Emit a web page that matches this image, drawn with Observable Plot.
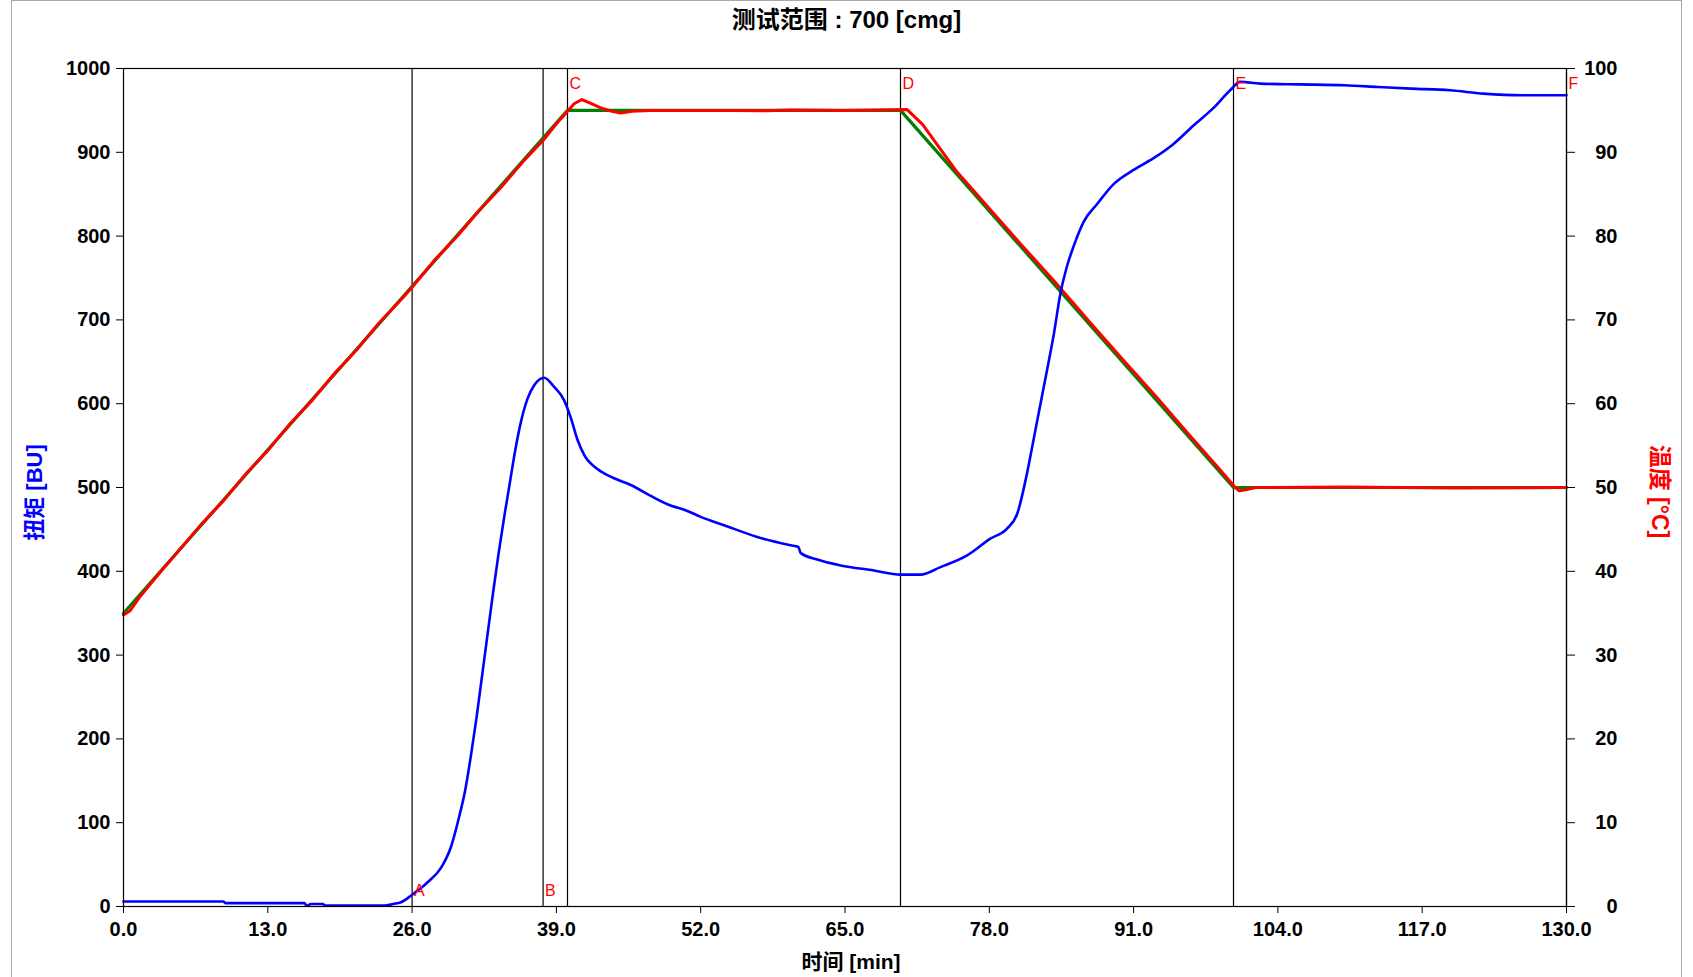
<!DOCTYPE html>
<html>
<head>
<meta charset="utf-8">
<script src="https://cdn.jsdelivr.net/npm/d3@7"></script>
<script src="https://cdn.jsdelivr.net/npm/@observablehq/plot@0.6"></script>
<style>
  html, body { margin: 0; padding: 0; background: #fff; }
  #wrap { position: relative; width: 1693px; height: 977px; overflow: hidden; background: #fff; }
  #border { position: absolute; left: 11px; top: 0; width: 1671px; height: 1000px; border: 1px solid #a9a9a9; box-sizing: border-box; }
  #title { position: absolute; left: 0; top: 0; width: 1693px; height: 52px; line-height: 52px; text-align: center;
           font: bold 24px "Liberation Sans", "Noto Sans CJK SC", sans-serif; color: #000; }
  #chart { position: absolute; left: 0; top: 50px; }
</style>
</head>
<body>
<div id="wrap">
  <div id="border"></div>
  <div id="title"></div>
  <div id="chart"></div>
</div>
<script>
// ---- data ----
const titleText = "测试范围 : 700 [cmg]";
const xLabel = "时间 [min]";
const yLabelLeft = "扭矩 [BU]";
const yLabelRight = "温度 [°C]";

const xTicks = [0, 13, 26, 39, 52, 65, 78, 91, 104, 117, 130];
const torqueTicks = [0, 100, 200, 300, 400, 500, 600, 700, 800, 900, 1000];
const tempTicks = [0, 10, 20, 30, 40, 50, 60, 70, 80, 90, 100];

const markerNames = ["A", "B", "C", "D", "E", "F"];
const markerTime = [26, 37.8, 40, 70, 100, 130];

// torque (BU) vs time (min)
const torqueTime = [0, 9, 9.2, 16.3, 16.5, 16.9, 18, 18.1, 23.5, 24.3, 25, 26, 27.4, 28.6, 29.5, 30.2, 30.8, 31.3, 31.8, 32.3, 32.8, 33.3, 33.8, 34.3, 34.8, 35.3, 35.8, 36.4, 37.0, 37.9, 38.8, 39.7, 40.3, 40.9, 41.5, 42.7, 44.2, 45.7, 47.5, 49.0, 50.8, 52.0, 54.1, 57.1, 60.1, 60.8, 61.0, 62.5, 64.6, 67.6, 70.0, 71.8, 73.6, 76.0, 78.1, 79.6, 80.5, 81.4, 82.0, 82.6, 83.2, 83.8, 84.4, 85.0, 85.6, 86.5, 87.7, 89.2, 91.0, 92.8, 94.6, 96.4, 98.2, 99.7, 100.6, 102.4, 106, 110, 113, 116, 119.5, 122.5, 126, 130];
const torqueBU   = [6, 6, 4, 4, 1, 3, 3, 1, 1, 3, 5, 14, 29, 46, 71, 105, 140, 180, 225, 275, 325, 375, 422, 465, 505, 545, 578, 606, 622, 631, 620, 604, 583, 557, 539, 522, 511, 503, 490, 480, 472, 465, 455, 441, 431, 429, 422, 414, 407, 401, 396, 396, 405, 419, 439, 451, 468, 517, 558, 599, 640, 682, 731, 764, 788, 817, 838, 862, 879, 893, 910, 932, 953, 974, 984, 982, 981, 980, 978, 976, 974, 970, 968, 968];

// measured temperature (°C)
const tempTime = [0, 0.6, 1.5, 3, 5, 7, 9, 11, 13, 15, 17, 19, 21, 23, 25, 26, 28, 30, 32, 34, 36, 37.8, 39, 40, 40.6, 41.3, 42, 43, 44, 44.8, 45.8, 47.5, 55, 58, 60, 65, 70.6, 72, 75, 78, 81, 84, 87, 90, 93, 96, 99, 100.1, 100.5, 101, 102, 110, 120, 130];
const tempC    = [34.8, 35.3, 37.0, 39.4, 42.5, 45.6, 48.4, 51.6, 54.4, 57.6, 60.4, 63.6, 66.4, 69.6, 72.4, 73.9, 77.1, 79.9, 83.0, 85.8, 88.9, 91.4, 93.4, 94.9, 95.8, 96.3, 95.9, 95.3, 94.9, 94.7, 94.9, 95.0, 95.0, 94.95, 95.05, 95.0, 95.1, 93.3, 87.8, 83.3, 78.8, 74.4, 69.8, 65.3, 60.9, 56.3, 51.8, 50.1, 49.6, 49.7, 50.0, 50.05, 49.95, 50.0];

// set-point temperature profile (°C)
const setTime = [0, 40, 70, 100, 130];
const setC    = [35, 95, 95, 50, 50];

// ---- tables built from the arrays ----
const torque = torqueTime.map((t, i) => ({t, v: torqueBU[i]}));
const temp = tempTime.map((t, i) => ({t, v: tempC[i] * 10}));   // °C drawn on the shared scale, read on the right axis
const setp = setTime.map((t, i) => ({t, v: setC[i] * 10}));
const markers = markerNames.map((name, i) => ({name, t: markerTime[i]}));

document.getElementById("title").textContent = titleText;

const fam = "'Liberation Sans', 'Noto Sans CJK SC', sans-serif";

const chart = Plot.plot({
  width: 1693,
  height: 927,
  marginLeft: 123,
  marginRight: 127,
  marginTop: 18,
  marginBottom: 71,
  style: {fontFamily: fam, fontSize: "20px", fontWeight: "bold", color: "#000", background: "transparent", overflow: "visible"},
  x: {domain: [0, 130]},
  y: {domain: [0, 1000]},
  marks: [
    Plot.ruleX(markers, {x: "t", stroke: "#000", strokeWidth: 1.2}),
    Plot.line(setp, {x: "t", y: "v", stroke: "#008000", strokeWidth: 3.2}),
    Plot.line(temp, {x: "t", y: "v", stroke: "#ff0000", strokeWidth: 3}),
    Plot.line(torque, {x: "t", y: "v", stroke: "#0000ff", strokeWidth: 2.6, curve: "monotone-x"}),
    Plot.frame({stroke: "#000", strokeWidth: 1.2}),
    Plot.axisX(xTicks, {tickSize: 7, tickPadding: 8, tickFormat: d => d.toFixed(1), label: null}),
    Plot.axisY(torqueTicks, {anchor: "left", tickSize: 7, tickPadding: 6, tickFormat: d => String(d), label: null}),
    Plot.axisY(tempTicks.map(c => c * 10), {anchor: "right", tickSize: 8, tickPadding: 43, textAnchor: "end", tickFormat: d => String(d / 10), label: null}),
    Plot.text(markers.slice(2), {x: "t", text: "name", frameAnchor: "top", lineAnchor: "top", textAnchor: "start", dx: 2, dy: 9, fill: "#ff0000", fontSize: 16, fontWeight: "normal"}),
    Plot.text(markers.slice(0, 2), {x: "t", text: "name", frameAnchor: "bottom", lineAnchor: "bottom", textAnchor: "start", dx: 2, dy: -11, fill: "#ff0000", fontSize: 16, fontWeight: "normal"}),
    Plot.text([xLabel], {frameAnchor: "bottom", lineAnchor: "middle", textAnchor: "middle", dy: 56, dx: 6, fontSize: 21}),
    Plot.text([yLabelLeft], {frameAnchor: "left", lineAnchor: "middle", textAnchor: "middle", rotate: -90, dx: -89, dy: 5, fill: "#0000ff", fontSize: 22}),
    Plot.text([yLabelRight], {frameAnchor: "right", lineAnchor: "middle", textAnchor: "middle", rotate: 90, dx: 93, dy: 4, fill: "#ff0000", fontSize: 23})
  ]
});
document.getElementById("chart").appendChild(chart);
</script>
</body>
</html>
